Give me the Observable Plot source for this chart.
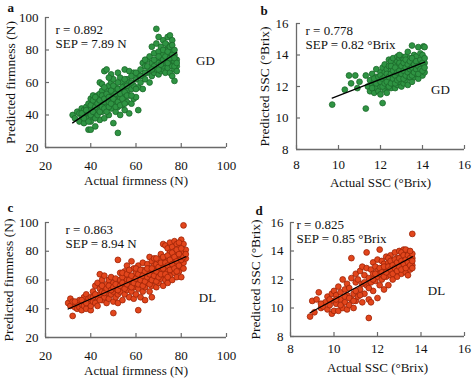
<!DOCTYPE html>
<html><head><meta charset="utf-8">
<script src="https://cdn.jsdelivr.net/npm/d3@7"></script>
<script src="https://cdn.jsdelivr.net/npm/@observablehq/plot@0.6"></script>
<style>
html,body{margin:0;padding:0;background:#fff;}
#root{position:relative;width:474px;height:380px;}
.pan{position:absolute;}
</style></head>
<body><div id="root"></div>
<script>
// ---- Data: [actual, predicted] ----
const gdFirmness = [
[32,40],[33,38],[34,42],[35,36],[35,41],[36,39],[36,44],[37,35],[37,43],[38,40],[38,45],[38,38],[39,31],[39,42],[39,47],[40,31],[40,36],[40,44],[40,50],[41,39],[41,46],[41,52],[42,33],[42,41],[42,48],[43,44],[43,50],[43,52],[44,37],[44,46],[44,53],[44,60],[45,42],[45,49],[45,55],[45,59],
[46,38],[46,47],[46,52],[46,67],[47,45],[47,50],[47,56],[47,68],[48,40],[48,48],[48,53],[48,58],[49,44],[49,51],[49,60],[49,65],[50,35],[50,47],[50,55],[50,62],[51,42],[51,49],[51,57],[52,29],[52,45],[52,52],[52,66],[53,40],[53,50],[53,56],[53,63],[54,46],[54,54],[54,60],[55,43],[55,51],[55,58],[55,68],[56,48],[56,55],[56,62],[57,41],[57,52],[57,60],[57,67],[58,47],[58,56],[59,50],[59,58],[59,66],[60,51],[60,62],[61,43],[61,57],[61,65],
[62,60],[62,68],[63,56],[63,64],[63,72],[64,62],[64,70],[65,66],[65,74],[66,60],[66,68],[66,76],[67,64],[67,72],[67,82],[68,66],[68,70],[68,78],[69,68],[69,74],[69,84],[69,93],[70,65],[70,72],[70,79],[70,88],[71,67],[71,75],[71,82],[72,68],[72,70],[72,77],[72,86],[73,66],[73,72],[73,80],[74,69],[74,75],[74,83],[74,88],[75,66],[75,72],[75,78],[75,89],[76,64],[76,70],[76,74],[76,80],[76,86],[77,61],[77,68],[77,73],[77,77],[78,70],[78,74],
[36,41],[37,38],[38,43],[39,36],[40,40],[40,46],[41,42],[41,49],[42,38],[42,45],[42,51],[43,40],[43,47],[44,42],[44,49],[45,45],[45,52],[46,44],[46,50],[46,57],[47,42],[47,53],[48,45],[48,51],[48,63],[49,47],[49,55],[50,50],[50,58],[51,45],[51,53],[52,48],[52,56],[52,60],[53,46],[53,53],[54,50],[54,57],[55,47],[55,54],[55,62],[56,52],[56,58],[58,52],[58,60],[58,64],[60,56],[60,66],[62,64],[64,66],[64,74],[65,70],[67,68],[68,74],[70,68],[70,76],[71,71],[72,74],[72,80],[73,76],[73,84],[74,72],[74,79],[75,75],[75,82],[76,77],[76,83],[77,70],[77,75],[77,80],[78,72],[78,67]
];
const gdSSC = [
[9.7,10.85],[10.3,11.8],[10.5,12.7],[10.6,12.2],[10.8,12.7],[10.9,11.9],[11.0,12.3],[11.3,10.6],[11.3,12.7],[12.1,10.95],
[11.4,12.0],[11.5,11.7],[11.5,12.4],[11.6,12.1],[11.6,12.8],[11.7,11.6],[11.7,12.3],[11.8,11.9],[11.8,12.6],[11.8,13.1],[11.9,12.2],[11.9,11.7],[12.0,12.0],[12.0,12.5],[12.0,12.9],[12.0,11.5],
[12.1,12.2],[12.1,12.7],[12.1,13.2],[12.2,11.8],[12.2,12.4],[12.2,12.9],[12.2,13.4],[12.3,12.0],[12.3,12.6],[12.3,13.1],[12.3,11.6],[12.4,12.3],[12.4,12.8],[12.4,13.3],[12.4,13.7],[12.5,11.9],[12.5,12.5],[12.5,13.0],[12.5,13.6],[12.6,12.2],[12.6,12.7],[12.6,13.2],[12.6,13.8],
[12.7,11.9],[12.7,12.4],[12.7,12.9],[12.7,13.4],[12.8,12.1],[12.8,12.6],[12.8,13.1],[12.8,13.6],[12.8,13.9],[12.9,12.3],[12.9,12.8],[12.9,13.3],[12.9,13.8],[13.0,12.0],[13.0,12.5],[13.0,13.0],[13.0,13.5],[13.0,13.9],[13.1,12.2],[13.1,12.7],[13.1,13.2],[13.1,13.7],[13.2,12.4],[13.2,12.9],[13.2,13.4],[13.2,13.9],
[13.3,12.1],[13.3,12.6],[13.3,13.1],[13.3,13.6],[13.4,12.8],[13.4,13.3],[13.4,13.8],[13.5,12.3],[13.5,12.9],[13.5,13.5],[13.5,14.6],[13.6,12.6],[13.6,13.1],[13.6,13.7],[13.6,14.0],[13.7,12.8],[13.7,13.3],[13.7,13.9],[13.8,12.5],[13.8,13.0],[13.8,13.6],[13.8,14.5],[13.9,12.9],[13.9,13.4],[13.9,14.1],[14.0,12.7],[14.0,13.2],[14.0,13.7],[14.05,14.55],[14.1,12.9],[14.1,13.5],[14.1,14.5],
[11.6,11.9],[11.7,12.5],[11.8,12.2],[11.9,12.6],[12.0,12.3],[12.0,12.7],[12.1,12.0],[12.1,12.5],[12.2,12.2],[12.2,12.6],[12.3,12.3],[12.3,12.8],[12.4,12.0],[12.4,12.6],[12.5,12.2],[12.5,12.8],[12.5,13.3],[12.6,12.5],[12.6,13.0],[12.7,12.2],[12.7,12.7],[12.7,13.2],[12.8,12.4],[12.8,12.9],[12.9,12.5],[12.9,13.0],[12.9,13.5],[13.0,12.8],[13.0,13.3],[13.1,12.5],[13.1,13.0],[13.1,13.5],[13.2,12.7],[13.2,13.2],[13.2,13.7],[13.3,12.9],[13.3,13.4],[13.4,12.6],[13.4,13.1],[13.4,13.6],[13.5,12.7],[13.5,13.2],[13.5,13.8],[13.6,12.9],[13.6,13.4],[13.7,13.1],[13.7,13.6],[13.8,12.8],[13.8,13.3],[13.9,13.1],[13.9,13.7],[14.0,13.0],[14.0,13.5],[14.0,14.0],[14.1,13.2],[14.1,13.8],[13.3,14.2],[12.9,14.0]
];
const dlFirmness = [
[30,44],[31,47],[31,42],[32,35],[32,45],[33,41],[34,44],[34,40],[35,46],[35,41],[36,43],[36,39],[37,48],[37,42],[38,50],[38,40],[39,44],[39,47],[40,39],[40,42],[40,48],
[41,45],[41,52],[42,44],[42,56],[43,48],[43,58],[43,42],[44,50],[44,64],[44,54],[45,46],[45,52],[45,60],[46,48],[46,55],[46,63],[47,51],[47,57],[47,44],[48,53],[48,60],[48,47],[49,50],[49,56],[49,62],[50,37],[50,45],[50,52],[50,58],
[51,48],[51,54],[51,61],[52,74],[52,44],[52,50],[52,57],[53,52],[53,60],[53,65],[54,46],[54,55],[54,62],[55,50],[55,58],[55,66],[56,53],[56,60],[56,70],[57,48],[57,56],[57,63],[58,52],[58,59],[58,73],[59,47],[59,55],[59,62],[59,68],[60,50],[60,57],[60,65],
[61,39],[61,54],[61,60],[61,70],[62,48],[62,57],[62,64],[63,52],[63,60],[63,67],[63,72],[64,46],[64,55],[64,62],[65,58],[65,65],[65,71],[66,52],[66,61],[66,68],[66,76],[67,48],[67,56],[67,64],[67,73],[68,60],[68,67],[68,70],[69,55],[69,63],[69,71],[70,58],[70,65],[70,74],
[71,61],[71,68],[71,78],[72,56],[72,64],[72,72],[72,85],[73,60],[73,68],[73,76],[73,84],[74,58],[74,66],[74,73],[74,82],[75,63],[75,70],[75,79],[75,86],[76,60],[76,67],[76,75],[76,83],[77,65],[77,72],[77,80],[77,87],[78,62],[78,70],[78,77],[78,85],[79,66],[79,74],[79,82],[80,62],[80,69],[80,78],[80,88],[81,72],[81,80],[81,98],[81,85],[82,75],[82,81],
[33,45],[36,46],[38,44],[41,48],[42,50],[44,46],[45,56],[46,51],[47,54],[48,56],[49,53],[50,55],[51,57],[52,53],[53,56],[54,58],[54,65],[55,54],[56,57],[56,64],[57,60],[57,67],[58,55],[58,63],[59,58],[60,61],[60,68],[61,57],[61,64],[62,60],[62,67],[63,56],[63,63],[64,59],[64,66],[65,62],[65,68],[66,57],[66,64],[67,60],[67,68],[68,63],[68,75],[69,59],[69,66],[69,75],[70,62],[70,69],[71,64],[71,72],[72,68],[72,76],[73,64],[73,72],[74,62],[74,70],[74,77],[75,67],[75,74],[76,71],[76,79],[77,68],[77,76],[78,66],[78,73],[78,81],[79,70],[79,78],[79,86],[80,74],[80,82],[81,68],[81,76],[82,78]
];
const dlSSC = [
[8.9,9.4],[9.0,10.5],[9.1,9.7],[9.2,10.6],[9.3,11.1],[9.4,10.0],[9.5,10.1],[9.6,10.4],[9.7,9.9],[9.7,10.8],[9.8,10.2],[9.9,9.6],[9.9,11.0],[10.0,10.5],[10.0,11.2],[10.0,9.8],
[10.1,10.3],[10.1,10.9],[10.2,9.8],[10.2,11.5],[10.3,10.6],[10.3,11.1],[10.4,10.0],[10.4,12.0],[10.5,10.4],[10.5,11.3],[10.6,9.9],[10.6,10.9],[10.6,11.7],[10.7,10.2],[10.7,11.4],[10.8,10.6],[10.8,13.5],[10.8,12.1],[10.9,10.0],[10.9,11.0],[11.0,10.5],[11.0,11.8],[11.0,12.4],
[11.1,10.8],[11.1,12.0],[11.2,11.3],[11.2,12.6],[11.3,10.4],[11.3,11.7],[11.3,12.9],[11.4,11.0],[11.4,12.3],[11.5,11.6],[11.5,12.8],[11.5,13.9],[11.6,9.3],[11.6,10.6],[11.6,12.1],[11.7,10.4],[11.7,11.8],[11.7,12.7],[11.8,11.2],[11.8,12.4],[11.8,13.2],[11.9,11.9],[11.9,12.9],[12.0,10.7],[12.0,12.2],[12.0,12.6],[12.0,13.4],
[12.1,11.6],[12.1,12.4],[12.1,14.1],[12.2,12.0],[12.2,12.8],[12.2,13.3],[12.3,11.3],[12.3,12.5],[12.3,13.1],[12.4,12.2],[12.4,12.9],[12.4,13.6],[12.5,11.6],[12.5,12.6],[12.5,13.2],[12.6,12.3],[12.6,13.0],[12.6,13.7],[12.7,12.0],[12.7,12.7],[12.7,13.3],[12.8,12.5],[12.8,13.1],[12.8,13.9],
[12.9,12.2],[12.9,12.9],[12.9,13.5],[13.0,12.6],[13.0,13.2],[13.0,14.0],[13.1,12.4],[13.1,13.0],[13.1,13.6],[13.2,12.8],[13.2,13.4],[13.2,14.1],[13.3,12.5],[13.3,13.1],[13.3,13.8],[13.4,12.3],[13.4,12.9],[13.4,13.5],[13.4,14.0],[13.5,12.7],[13.5,13.3],[13.5,13.8],[13.6,13.0],[13.6,13.5],[13.6,15.2],
[9.4,10.3],[9.8,10.6],[10.1,10.6],[10.3,10.2],[10.5,10.8],[10.7,10.7],[10.9,10.5],[11.0,11.2],[11.2,10.9],[11.4,11.8],[11.6,11.4],[11.8,12.0],[11.9,12.4],[12.1,12.8],[12.2,12.5],[12.3,12.2],[12.3,12.9],[12.4,12.5],[12.5,12.9],[12.5,13.5],[12.6,12.7],[12.6,13.3],[12.7,12.4],[12.7,13.0],[12.8,12.8],[12.8,13.4],[12.9,12.6],[12.9,13.2],[13.0,12.9],[13.0,13.5],[13.1,12.7],[13.1,13.3],[13.1,13.9],[13.2,13.1],[13.2,13.7],[13.3,12.8],[13.3,13.4],[13.4,13.2],[13.4,13.7],[13.5,13.0],[13.5,13.5],[13.6,12.8],[13.6,13.3],[13.6,13.8],[13.3,14.1],[13.5,14.0]
];
const firmTicks = [20, 40, 60, 80, 100];
const sscTicks = [8, 10, 12, 14, 16];
const panelLetters = ["a", "b", "c", "d"];
const statsR = ["r = 0.892", "r = 0.778", "r = 0.863", "r = 0.825"];
const statsSEP = ["SEP = 7.89 N", "SEP = 0.82 °Brix", "SEP = 8.94 N", "SEP = 0.85 °Brix"];
const cultivars = ["GD", "GD", "DL", "DL"];
const xLabels = ["Actual firmness (N)", "Actual SSC (°Brix)", "Actual firmness (N)", "Actual SSC (°Brix)"];
const yLabels = ["Predicted firmness (N)", "Predicted SSC (°Brix)", "Predicted firmness (N)", "Predicted SSC (°Brix)"];

// ---- Layout / style ----
const FONT = "'Liberation Serif', 'Times New Roman', serif";
const green = {fill: "#2f9443", stroke: "#1c6a2b"};
const red = {fill: "#e2461c", stroke: "#9e2408"};

const panels = [
  {data: gdFirmness, ticks: firmTicks, col: green, left: 0, top: 0,
   m: {l: 45, r: 11, t: 17, b: 43}, xPad: 13, yPad: 7,
   letter: [-38, -10], stat: [10, 12], gd: [160, 43], xl: 33, yl: -35},
  {data: gdSSC, ticks: sscTicks, col: green, left: 237, top: 0,
   m: {l: 59, r: 10, t: 23, b: 41}, xPad: 10, yPad: 8,
   letter: [-36, -13], stat: [9, 7], gd: [144, 66], xl: 33, yl: -32},
  {data: dlFirmness, ticks: firmTicks, col: red, left: 0, top: 190,
   m: {l: 45, r: 11, t: 32, b: 43}, xPad: 13, yPad: 7,
   letter: [-38, -15], stat: [20, 7], gd: [162, 75], xl: 33, yl: -37},
  {data: dlSSC, ticks: sscTicks, col: red, left: 237, top: 190,
   m: {l: 53, r: 10, t: 32, b: 44}, xPad: 7, yPad: 7,
   letter: [-35, -12], stat: [6, 2], gd: [146, 68], xl: 31, yl: -35}
];

const root = document.getElementById("root");
panels.forEach((p, i) => {
  const W = 237, H = 190;
  const fw = W - p.m.l - p.m.r, fh = H - p.m.t - p.m.b;
  const dom = [p.ticks[0], p.ticks[p.ticks.length - 1]];
  const axisColor = "#6a6a6a";
  const chart = Plot.plot({
    width: W, height: H,
    marginLeft: p.m.l, marginRight: p.m.r, marginTop: p.m.t, marginBottom: p.m.b,
    style: {fontFamily: FONT, fontSize: "13px", color: "#111", background: "transparent", overflow: "visible"},
    x: {domain: dom, ticks: p.ticks, tickSize: 0, tickPadding: p.xPad, label: null},
    y: {domain: dom, ticks: p.ticks, tickSize: 0, tickPadding: p.yPad, label: null},
    marks: [
      Plot.dot(p.data, {x: d => d[0], y: d => d[1], r: 2.9, fill: p.col.fill, stroke: p.col.stroke, strokeWidth: 0.8}),
      Plot.linearRegressionY(p.data, {x: d => d[0], y: d => d[1], ci: 0, stroke: "#000", strokeWidth: 1.3}),
      Plot.ruleX([dom[0]], {stroke: axisColor, strokeWidth: 1.3}),
      Plot.ruleY([dom[0]], {stroke: axisColor, strokeWidth: 1.3}),
      Plot.tickX(p.ticks, {x: d => d, insetTop: fh - 4, stroke: axisColor, strokeWidth: 1.2}),
      Plot.tickY(p.ticks, {y: d => d, insetRight: fw - 4, stroke: axisColor, strokeWidth: 1.2}),
      Plot.text([panelLetters[i]], {frameAnchor: "top-left", dx: p.letter[0], dy: p.letter[1], fontWeight: "bold", fontSize: 13, textAnchor: "start", lineAnchor: "middle"}),
      Plot.text([statsR[i]], {frameAnchor: "top-left", dx: p.stat[0], dy: p.stat[1], textAnchor: "start", lineAnchor: "middle", fontSize: 13}),
      Plot.text([statsSEP[i]], {frameAnchor: "top-left", dx: p.stat[0], dy: p.stat[1] + 14.5, textAnchor: "start", lineAnchor: "middle", fontSize: 13}),
      Plot.text([cultivars[i]], {frameAnchor: "top-left", dx: p.gd[0], dy: p.gd[1], textAnchor: "middle", lineAnchor: "middle", fontSize: 13}),
      Plot.text([xLabels[i]], {frameAnchor: "bottom", dy: p.xl, textAnchor: "middle", lineAnchor: "middle", fontSize: 13}),
      Plot.text([yLabels[i]], {frameAnchor: "left", dx: p.yl, rotate: -90, textAnchor: "middle", lineAnchor: "middle", fontSize: 13.5})
    ]
  });
  chart.classList.add("pan");
  chart.style.left = p.left + "px";
  chart.style.top = p.top + "px";
  root.appendChild(chart);
});
</script>
</body></html>
